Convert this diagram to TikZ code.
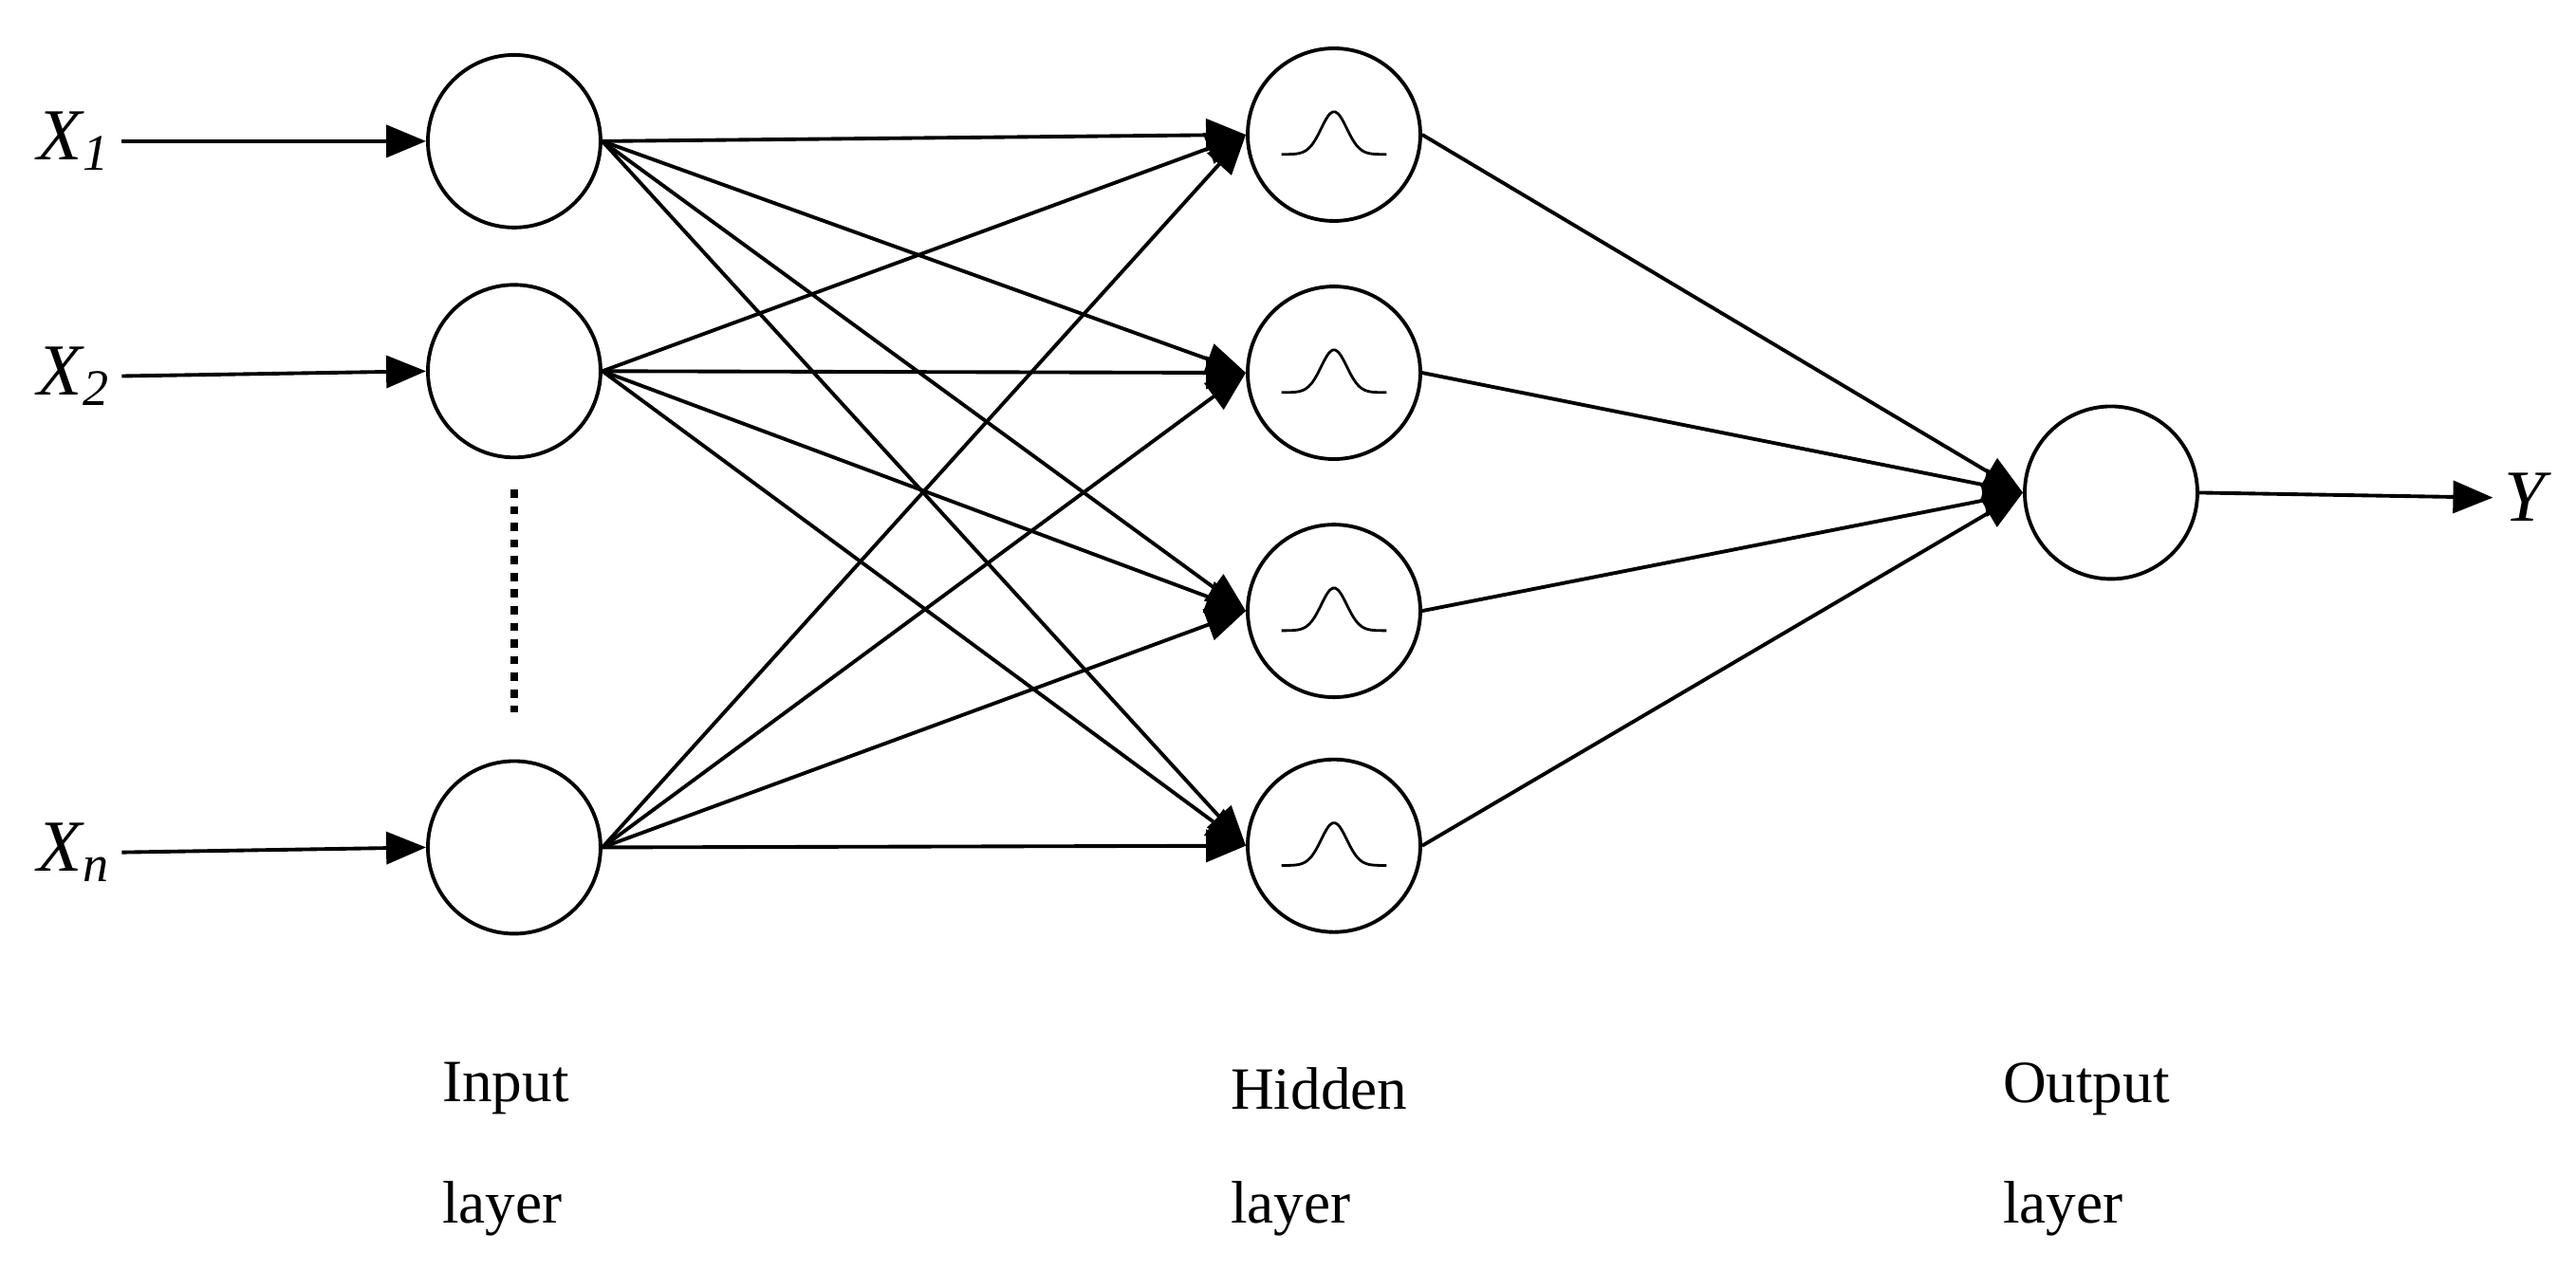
\documentclass[tikz,border=0pt]{standalone}
\usepackage{fontspec}
\setmainfont{Liberation Serif}
\usetikzlibrary{arrows.meta}
\begin{document}
\begin{tikzpicture}[x=0.017315cm,y=-0.017315cm,
  neuron/.style={circle,draw,line width=1.1pt,minimum size=1.82cm,inner sep=0pt},
  edge/.style={line width=1.1pt,-{Triangle[length=0.42cm,width=0.34cm]}},
  xlab/.style={font=\fontsize{22}{26}\selectfont\itshape},
  llab/.style={font=\fontsize{18}{22}\selectfont,anchor=west,align=left}]
\useasboundingbox (0,0) rectangle (1568,784);
\node[neuron] (i1) at (313,86) {};
\node[neuron] (i2) at (313,226) {};
\node[neuron] (in) at (313,516) {};
\foreach \n/\y in {1/82,2/227,3/372,4/515}{
  \node[neuron] (h\n) at (812,\y) {};
  \draw[line width=0.8pt] plot[domain=-32:32,samples=40,smooth] ({812+\x},{\y+12-26*exp(-(\x/11)^2)});
}
\node[neuron] (o) at (1285,300) {};
\node[xlab] (x1) at (45,86) {X\textsubscript{1}};
\node[xlab] (x2) at (45,229) {X\textsubscript{2}};
\node[xlab] (xn) at (45,519) {X\textsubscript{n}};
\node[xlab] (yy) at (1537,303) {Y};
\draw[edge] (x1.east) -- (i1.west);
\draw[edge] (x2.east) -- (i2.west);
\draw[edge] (xn.east) -- (in.west);
\foreach \i in {i1,i2,in}{
  \foreach \h in {h1,h2,h3,h4}{
    \draw[edge] (\i.east) -- (\h.west);
  }
}
\foreach \h in {h1,h2,h3,h4}{\draw[edge] (\h.east) -- (o.west);}
\draw[edge] (o.east) -- (yy.west);
\coordinate (d1) at (313,298);
\coordinate (d2) at (313,434);
\draw[line width=2.2pt,dash pattern=on 2.5pt off 2.5pt] (d1) -- (d2);
\node[llab] (l1) at (262,663) {Input};
\node[llab] (l1b) at (262,736) {layer};
\node[llab] (l2) at (742,663) {Hidden};
\node[llab] (l2b) at (742,736) {layer};
\node[llab] (l3) at (1212,663) {Output};
\node[llab] (l3b) at (1212,736) {layer};
\end{tikzpicture}
\end{document}
